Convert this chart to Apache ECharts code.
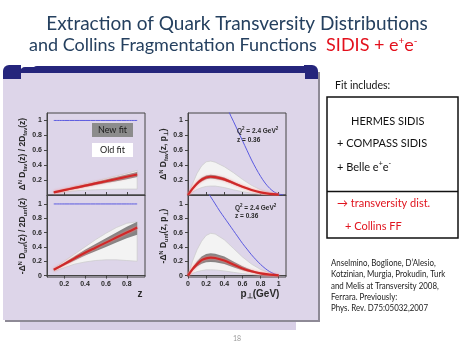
<!DOCTYPE html>
<html><head><meta charset="utf-8">
<script src="https://cdn.jsdelivr.net/npm/echarts@6/dist/echarts.min.js"></script>
<style>html,body{margin:0;padding:0;background:#fff}#c{width:474px;height:355px}</style>
</head><body><div id="c"></div>
<script>
// ---------- data ----------
const zValues = [0.1,0.2,0.3,0.4,0.5,0.6,0.7,0.8,0.9];
const favBlue   = [1,1,1,1,1,1,1,1,1];
const favRed    = [0.035,0.065,0.095,0.125,0.155,0.185,0.215,0.245,0.275];
const favNewLo  = [0.028,0.055,0.082,0.108,0.135,0.160,0.185,0.210,0.240];
const favNewHi  = [0.042,0.075,0.108,0.142,0.175,0.208,0.242,0.275,0.310];
const favOldLo  = [0.025,0.040,0.055,0.065,0.070,0.075,0.078,0.080,0.080];
const favOldHi  = [0.045,0.080,0.115,0.150,0.185,0.220,0.255,0.290,0.330];

const unfBlue   = [1,1,1,1,1,1,1,1,1];
const unfRed    = [0.08,0.16,0.24,0.32,0.39,0.46,0.53,0.60,0.67];
const unfNewLo  = [0.07,0.14,0.21,0.28,0.34,0.40,0.46,0.52,0.57];
const unfNewHi  = [0.09,0.18,0.27,0.36,0.44,0.52,0.60,0.68,0.75];
const unfOldLo  = [0.06,0.11,0.16,0.19,0.21,0.22,0.22,0.21,0.20];
const unfOldHi  = [0.10,0.20,0.30,0.40,0.50,0.59,0.67,0.73,0.75];

const pValues = [0,0.05,0.1,0.15,0.2,0.25,0.3,0.4,0.5,0.6,0.7,0.8,0.9,1.0];
const favPRed   = [0,0.085,0.155,0.205,0.235,0.245,0.240,0.210,0.160,0.110,0.067,0.035,0.015,0.005];
const favPNewLo = [0,0.075,0.135,0.180,0.210,0.220,0.215,0.190,0.145,0.100,0.060,0.030,0.012,0.004];
const favPNewHi = [0,0.095,0.175,0.230,0.260,0.270,0.265,0.235,0.178,0.122,0.075,0.040,0.018,0.006];
const favPOldLo = [0,0.040,0.075,0.100,0.115,0.120,0.120,0.100,0.070,0.045,0.025,0.012,0.005,0.001];
const favPOldHi = [0,0.150,0.290,0.390,0.445,0.455,0.440,0.380,0.300,0.210,0.130,0.070,0.030,0.010];
const favPBlueX = [0.42,0.45,0.5,0.55,0.6,0.65,0.7,0.75,0.8,0.85,0.9,0.95,1.0,1.05];
const favPBlue  = [1.25,1.12,0.99,0.86,0.73,0.60,0.47,0.355,0.25,0.16,0.09,0.04,0.012,0.002];

const unfPRed   = [0,0.090,0.160,0.215,0.240,0.250,0.245,0.210,0.155,0.100,0.060,0.030,0.013,0.004];
const unfPNewLo = [0,0.070,0.125,0.165,0.185,0.190,0.185,0.160,0.115,0.075,0.043,0.021,0.009,0.003];
const unfPNewHi = [0,0.110,0.200,0.265,0.300,0.310,0.305,0.265,0.195,0.130,0.078,0.040,0.017,0.006];
const unfPOldLo = [0,0.030,0.055,0.070,0.080,0.080,0.078,0.065,0.045,0.028,0.015,0.007,0.003,0.001];
const unfPOldHi = [0,0.200,0.360,0.480,0.560,0.590,0.580,0.500,0.380,0.260,0.160,0.085,0.035,0.010];
const unfPBlueX = [0.18,0.2,0.25,0.3,0.35,0.4,0.45,0.5,0.55,0.6,0.65,0.7,0.75,0.8,0.85,0.9,0.95,1.0];
const unfPBlue  = [1.25,1.20,1.10,1.00,0.90,0.81,0.72,0.63,0.54,0.45,0.37,0.29,0.22,0.155,0.10,0.055,0.025,0.008];

const zTicks = [0.2,0.4,0.6,0.8];
const pTicks = [0,0.2,0.4,0.6,0.8,1];
const yTicksTop = [0.2,0.4,0.6,0.8,1];
const yTicksBottom = [0,0.2,0.4,0.6,0.8,1];

// ---------- styling ----------
const AX = '#444';
const LBL = {fontFamily:'Liberation Sans', fontWeight:'bold', fontSize:7, color:'#2a2a2a'};
const fmt = v => (Math.abs(v) < 1e-9 ? '0' : (Math.abs(v-1) < 1e-9 ? '1' : String(+v.toFixed(1))));
const NAME = {fontFamily:'Liberation Sans', fontWeight:'bold', fontSize:8.5, color:'#2a2a2a',
  rich:{ sub:{fontFamily:'Liberation Sans', fontWeight:'bold', fontSize:5.5, color:'#2a2a2a', padding:[5,0,0,0]},
         sup:{fontFamily:'Liberation Sans', fontWeight:'bold', fontSize:5.5, color:'#2a2a2a', padding:[0,0,5,0]} }};

function xAx(g, min, max, ticks, showLabels, extra) {
  return Object.assign({
    gridIndex:g, type:'value', min:min, max:max,
    axisLine:{show:true, lineStyle:{color:AX, width:1}},
    axisTick:{show:true, inside:!showLabels, length:3, customValues:ticks, lineStyle:{color:AX}},
    axisLabel:{show:showLabels, customValues:ticks, formatter:fmt, margin:4, ...LBL},
    splitLine:{show:false}
  }, extra || {});
}
function yAx(g, min, max, ticks, name, gap) {
  return {
    gridIndex:g, type:'value', min:min, max:max,
    axisLine:{show:true, lineStyle:{color:AX, width:1}},
    axisTick:{show:true, inside:false, length:3, customValues:ticks, lineStyle:{color:AX}},
    axisLabel:{show:true, customValues:ticks, formatter:fmt, margin:5, ...LBL},
    splitLine:{show:false},
    name:name, nameLocation:'middle', nameRotate:90, nameGap:gap, nameTextStyle:NAME
  };
}
function pairs(xs, ys) { return xs.map((x,i)=>[x, ys[i]]); }
function band(g, xs, lo, hi, fill, edge) {
  return {
    type:'custom', xAxisIndex:g, yAxisIndex:g, silent:true, z:2, clip:true,
    data: xs.map((x,i)=>[x, lo[i], hi[i]]),
    encode:{x:0, y:[1,2]},
    renderItem:function(params, api){
      if (params.dataIndex !== 0) return null;
      const top = xs.map((x,i)=>api.coord([x, hi[i]]));
      const bot = xs.map((x,i)=>api.coord([x, lo[i]])).reverse();
      return {type:'polygon', shape:{points: top.concat(bot)},
              style:{fill:fill, stroke:edge, lineWidth: edge === 'none' ? 0 : 0.7}};
    }
  };
}
function curve(g, xs, ys, color, width, z, shadow) {
  return {type:'line', xAxisIndex:g, yAxisIndex:g, smooth:0.3, symbol:'none', silent:true, data:pairs(xs, ys),
    lineStyle:Object.assign({color:color, width:width}, shadow ? {shadowColor:'rgba(255,130,130,0.95)', shadowBlur:2.5} : {}), z:z};
}
const OLD = '#f3f3f3', OLDEDGE = '#cacaca', NEW = '#858585', RED = '#d02828', BLUE = '#5a5ae0';

const series = [
  band(0,zValues,favOldLo,favOldHi,OLD,OLDEDGE),
  band(0,zValues,favNewLo,favNewHi,NEW,'none'),
  curve(0,zValues,favBlue,BLUE,1,4,false),
  curve(0,zValues,favRed,RED,2.2,5,true),
  band(1,zValues,unfOldLo,unfOldHi,OLD,OLDEDGE),
  band(1,zValues,unfNewLo,unfNewHi,NEW,'none'),
  curve(1,zValues,unfBlue,BLUE,1,4,false),
  curve(1,zValues,unfRed,RED,2.2,5,true),
  band(2,pValues,favPOldLo,favPOldHi,OLD,OLDEDGE),
  band(2,pValues,favPNewLo,favPNewHi,NEW,'none'),
  curve(2,favPBlueX,favPBlue,BLUE,1,4,false),
  curve(2,pValues,favPRed,RED,2.2,5,true),
  band(3,pValues,unfPOldLo,unfPOldHi,OLD,OLDEDGE),
  band(3,pValues,unfPNewLo,unfPNewHi,NEW,'none'),
  curve(3,unfPBlueX,unfPBlue,BLUE,1,4,false),
  curve(3,pValues,unfPRed,RED,2.2,5,true)
];

const gridBase = {show:true, borderColor:AX, borderWidth:1, backgroundColor:'transparent', containLabel:false};
const NAVY = '#25257c', LAV = '#ddd5e9';
const slideFont = 'Lato';
function txt(x, y, s, size, color, align, sx) {
  return {type:'text', x:x, y:y, z:100, scaleX: sx || 1, style:{text:s, fontFamily:slideFont, fontSize:size, fill:color,
          textAlign:align || 'left', textVerticalAlign:'middle'}};
}
const annRich = {n:{fontFamily:'Liberation Sans', fontWeight:'bold', fontSize:6.5, fill:'#2a2a2a'},
                 s:{fontFamily:'Liberation Sans', fontWeight:'bold', fontSize:4.5, fill:'#2a2a2a', padding:[0,0,4,0]}};

const graphic = [
  // slide panel
  {type:'rect', z:-100, shape:{x:20, y:318, width:276, height:12}, style:{fill:'#d8cfe6'}},
  {type:'rect', z:-99, shape:{x:5, y:72, width:315, height:250}, style:{fill:'#8e8a96'}},
  {type:'rect', z:-98, shape:{x:3, y:70, width:315, height:250}, style:{fill:LAV}},
  {type:'rect', z:-97, shape:{x:3, y:65, width:18, height:14, r:[6,0,0,0]}, style:{fill:NAVY}},
  {type:'rect', z:-97, shape:{x:20, y:67, width:15, height:11, r:[5,0,0,0]}, style:{fill:NAVY}},
  {type:'rect', z:-97, shape:{x:33, y:66, width:275, height:7, r:[4,4,0,0]}, style:{fill:NAVY}},
  {type:'rect', z:-97, shape:{x:304, y:65, width:14, height:14, r:[0,6,0,0]}, style:{fill:NAVY}},
  {type:'rect', z:-96, shape:{x:21, y:73, width:284, height:6}, style:{fill:LAV}},
  // legend boxes
  {type:'rect', z:100, shape:{x:92, y:123, width:41, height:14}, style:{fill:'#8c8c8c'}},
  txt(112.5, 130, 'New fit', 9, '#1a1a1a', 'center'),
  {type:'rect', z:100, shape:{x:92, y:143, width:41, height:14}, style:{fill:'#ffffff'}},
  txt(112.5, 150, 'Old fit', 9, '#1a1a1a', 'center'),
  // annotations
  {type:'text', x:237, y:131, z:100, style:{text:'{n|Q}{s|2}{n| = 2.4 GeV}{s|2}', textVerticalAlign:'middle', rich:annRich}},
  {type:'text', x:237, y:140, z:100, style:{text:'z = 0.36', fontFamily:'Liberation Sans', fontWeight:'bold', fontSize:6.5, fill:'#2a2a2a', textVerticalAlign:'middle'}},
  {type:'text', x:235, y:208, z:100, style:{text:'{n|Q}{s|2}{n| = 2.4 GeV}{s|2}', textVerticalAlign:'middle', rich:annRich}},
  {type:'text', x:235, y:216, z:100, style:{text:'z = 0.36', fontFamily:'Liberation Sans', fontWeight:'bold', fontSize:6.5, fill:'#2a2a2a', textVerticalAlign:'middle'}},
  // right side text
  txt(335, 86, 'Fit includes:', 10.5, '#111'),
  {type:'rect', z:100, shape:{x:327, y:97, width:131, height:141}, style:{fill:'none', stroke:'#111', lineWidth:1.5}},
  {type:'line', z:100, shape:{x1:327, y1:191.5, x2:458, y2:191.5}, style:{stroke:'#111', lineWidth:1.5}},
  txt(351, 121, 'HERMES SIDIS', 11, '#111'),
  txt(337, 143, '+ COMPASS SIDIS', 11, '#111'),
  {type:'text', x:337, y:167, z:100, style:{text:'+ Belle e{s|+}e{s|-}', fontFamily:slideFont, fontSize:11, fill:'#111', textVerticalAlign:'middle', rich:{s:{fontFamily:slideFont, fontSize:7, fill:'#111', padding:[0,0,6,0]}}}},
  txt(337, 203, '\u2192 transversity dist.', 11, '#e0141e'),
  txt(345, 226, '+ Collins FF', 11, '#e0141e'),
  txt(331, 263, 'Anselmino, Boglione, D\u2019Alesio,', 9.3, '#222', 'left', 0.85),
  txt(331, 274.3, 'Kotzinian, Murgia, Prokudin, Turk', 9.3, '#222', 'left', 0.85),
  txt(331, 285.6, 'and Melis at Transversity 2008,', 9.3, '#222', 'left', 0.85),
  txt(331, 296.9, 'Ferrara. Previously:', 9.3, '#222', 'left', 0.85),
  txt(331, 308.2, 'Phys. Rev. D75:05032,2007', 9.3, '#222', 'left', 0.85),
  txt(237, 339, '18', 7, '#9a9a9a', 'center')
];

const option = {
  animation:false,
  backgroundColor:'#ffffff',
  title:[
    {text:'Extraction of Quark Transversity Distributions', left:'center', top:9,
     textStyle:{fontFamily:slideFont, fontSize:19, fontWeight:'normal', color:'#25405f'}},
    {text:'and Collins Fragmentation Functions  {r|SIDIS + e}{rs|+}{r|e}{rs|-}', left:24, top:31,
     textStyle:{fontFamily:slideFont, fontSize:18, fontWeight:'normal', color:'#25405f',
       rich:{r:{fontFamily:slideFont, fontSize:18, color:'#e3101c'}, rs:{fontFamily:slideFont, fontSize:10, color:'#e3101c', padding:[0,0,9,0]}}}}
  ],
  grid:[
    Object.assign({left:47, top:113, width:98, height:82}, gridBase),
    Object.assign({left:47, top:195, width:98, height:82}, gridBase),
    Object.assign({left:188, top:113, width:98, height:82}, gridBase),
    Object.assign({left:188, top:195, width:98, height:82}, gridBase)
  ],
  xAxis:[
    xAx(0, 0.035, 0.975, zTicks, false),
    xAx(1, 0.035, 0.975, zTicks, true, {name:'z', nameLocation:'middle', nameGap:11,
      nameTextStyle:{fontFamily:'Liberation Sans', fontWeight:'bold', fontSize:10, color:'#2a2a2a', padding:[0,0,0,88]}}),
    xAx(2, 0, 1.08, pTicks, false),
    xAx(3, 0, 1.08, pTicks, true, {name:'p{s|\u22a5}(GeV)', nameLocation:'middle', nameGap:9,
      nameTextStyle:{fontFamily:'Liberation Sans', fontWeight:'bold', fontSize:10, color:'#2a2a2a', padding:[0,0,0,46],
        rich:{s:{fontFamily:'Liberation Sans', fontWeight:'bold', fontSize:7, color:'#2a2a2a', padding:[5,0,0,0]}}}})
  ],
  yAxis:[
    yAx(0, 0, 1.1, yTicksTop, '\u0394{sup|N} D{sub|fav}(z) / 2D{sub|fav}(z)', 14),
    yAx(1, -0.02, 1.125, yTicksBottom, '-\u0394{sup|N} D{sub|unf}(z) / 2D{sub|unf}(z)', 14),
    yAx(2, 0, 1.1, yTicksTop, '\u0394{sup|N} D{sub|fav}(z, p{sub|\u22a5})', 16),
    yAx(3, -0.02, 1.125, yTicksBottom, '-\u0394{sup|N} D{sub|unf}(z, p{sub|\u22a5})', 16)
  ],
  graphic:graphic,
  series:series
};
const chart = echarts.init(document.getElementById('c'), null, {renderer:'canvas'});
chart.setOption(option);
</script></body></html>
